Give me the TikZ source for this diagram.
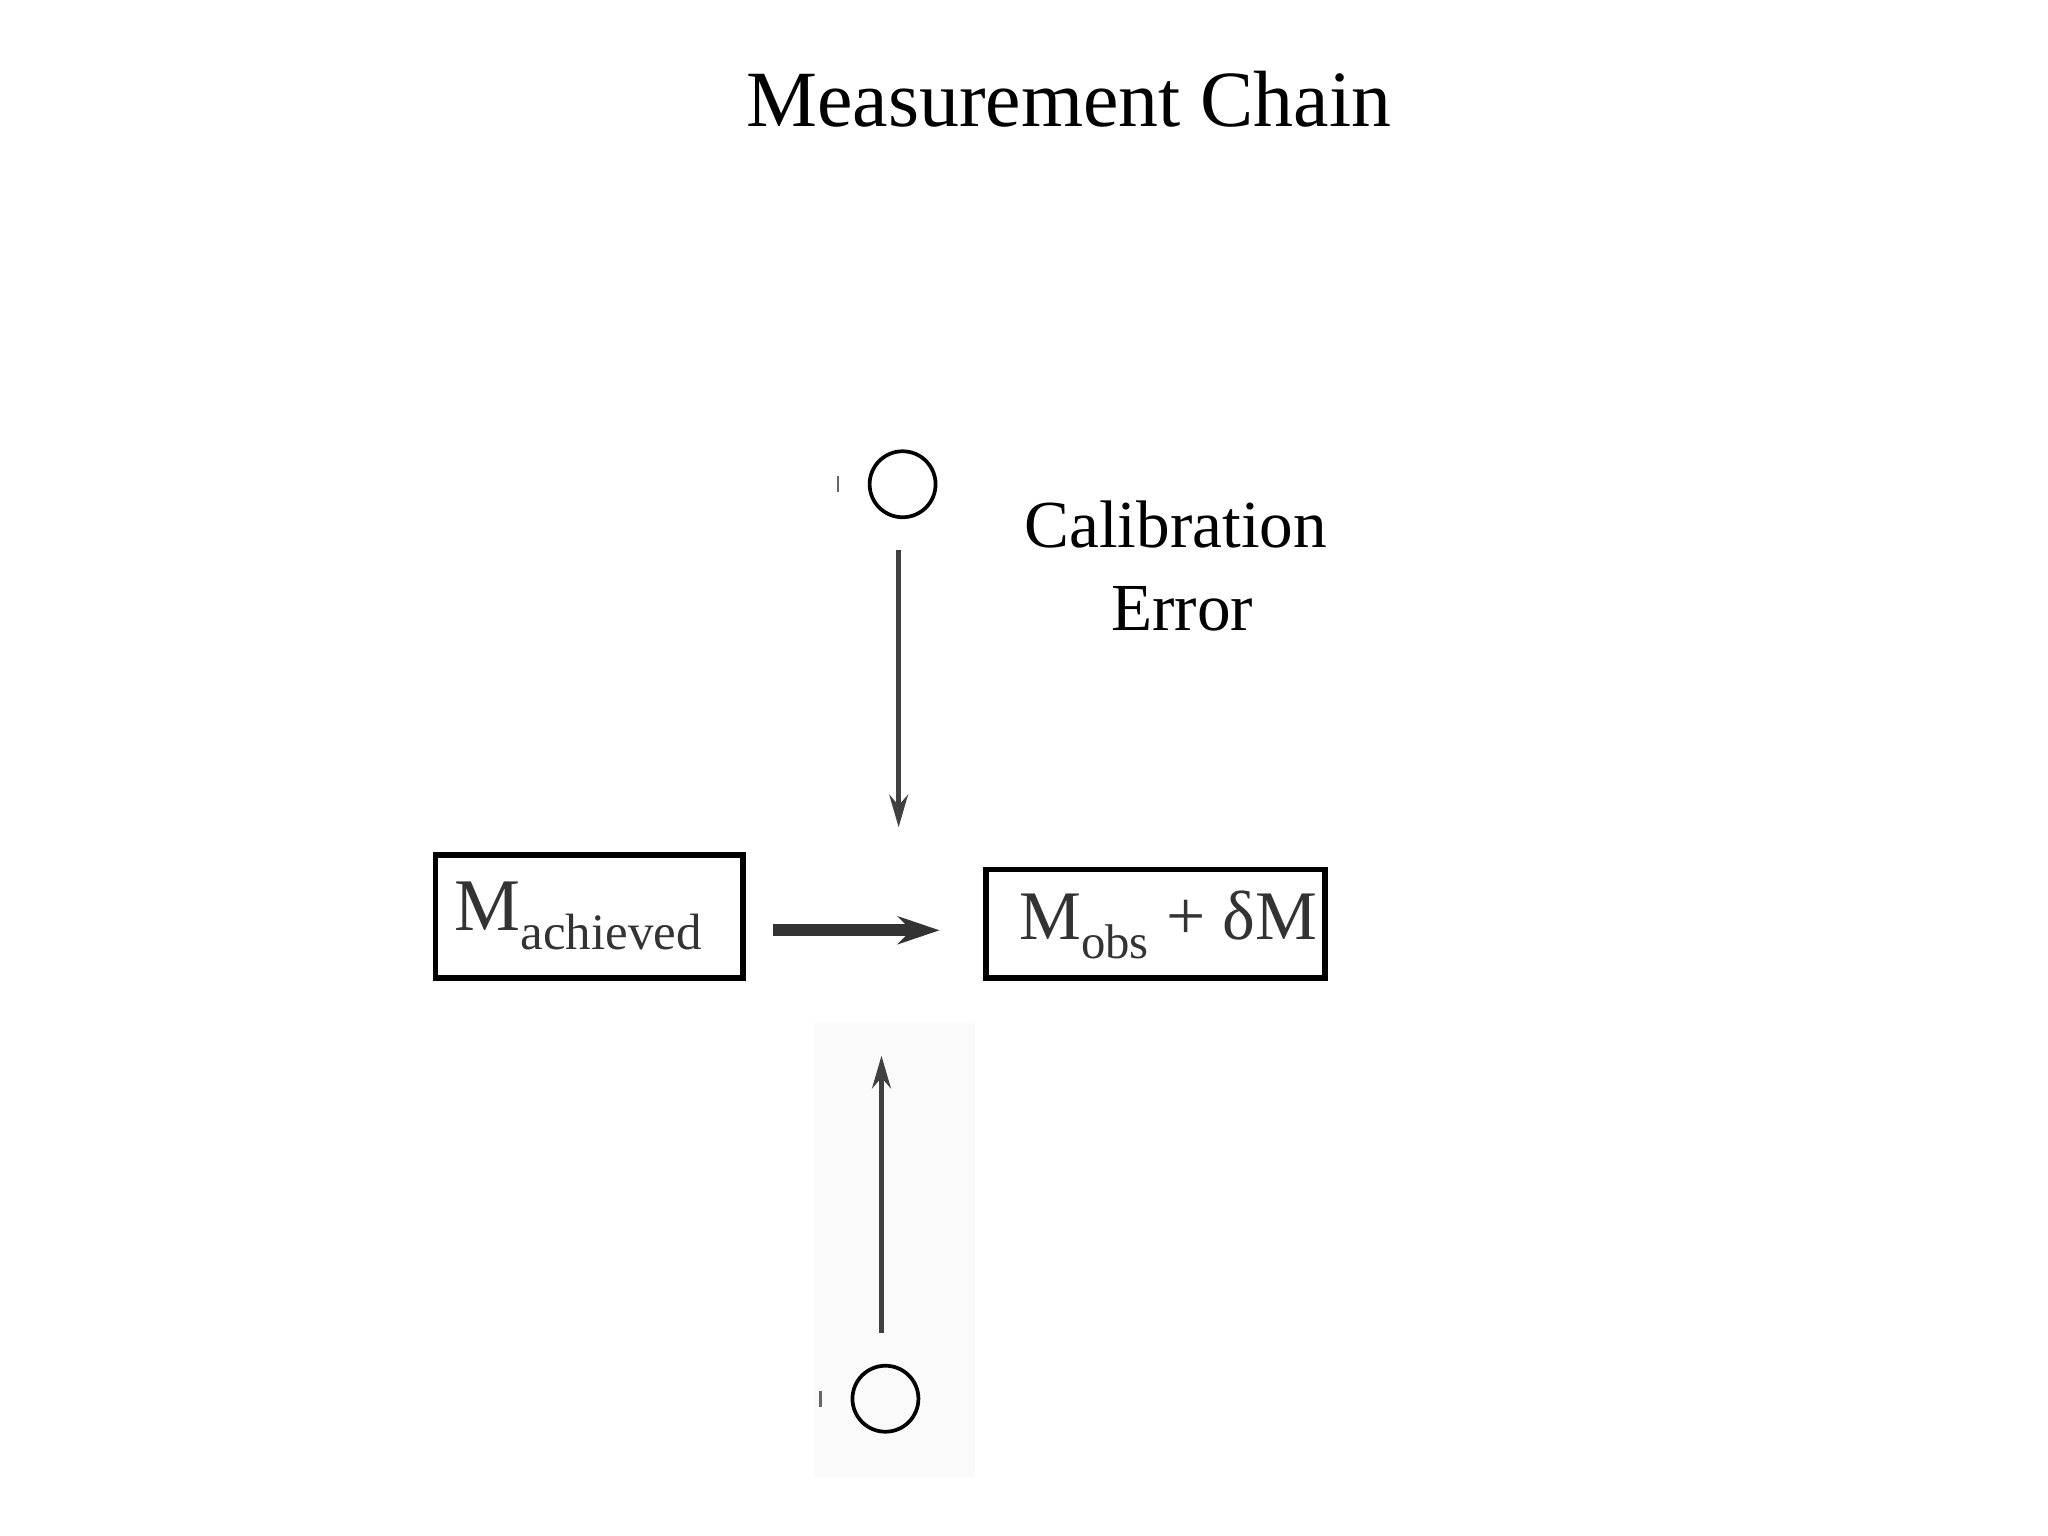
\documentclass[tikz,border=0pt]{standalone}
\usepackage{fontspec}
\usetikzlibrary{arrows.meta}
\setmainfont{Liberation Serif}
\begin{document}
\begin{tikzpicture}[x=1cm,y=1cm,
  box/.style={draw,line width=1.2pt,inner sep=0pt},
  arr/.style={-{Stealth[length=7pt,width=4pt]},line width=1.2pt,draw=black!75},
  circ/.style={draw,circle,line width=0.8pt,minimum size=0.5cm,inner sep=0pt}]
\useasboundingbox (0,0) rectangle (15.52,11.64);
\begin{scope}[shift={(-0.06,0.05)}]
\fill[black!2] (6.23,0.39) rectangle (7.45,3.84);
\node (title) at (8.16,10.84) {\fontsize{17.2}{21}\selectfont Measurement Chain};
\node[align=center,font=\fontsize{14.5}{18}\selectfont] (cal) at (8.97,7.3) {Calibration\\\hspace*{0.1cm}Error};
\node[circ] (c1) at (6.90,7.92) {};
\node[circ] (c2) at (6.77,0.99) {};
\draw[line width=0.6pt,black!60] (6.41,7.86) -- (6.41,7.98);
\draw[line width=0.6pt,black!60] (6.28,0.93) -- (6.28,1.05);
\node[box,minimum width=2.33cm,minimum height=0.93cm] (ma) at (4.525,4.645) {};
\node[anchor=west,text=black!80] at (3.38,4.65) {\fontsize{16}{19}\selectfont M\raisebox{-4pt}{\fontsize{11}{13}\selectfont achieved}};
\node[box,minimum width=2.57cm,minimum height=0.82cm] (mo) at (8.815,4.59) {};
\node[anchor=west,text=black!80] at (7.66,4.58) {\fontsize{15}{18}\selectfont M\raisebox{-4pt}{\fontsize{10.5}{12}\selectfont obs} + δM};
\coordinate (t1) at (6.87,7.42);
\coordinate (t2) at (6.87,5.32);
\draw[arr] (t1) -- (t2);
\coordinate (b1) at (6.74,1.49);
\coordinate (b2) at (6.74,3.59);
\draw[arr] (b1) -- (b2);
\coordinate (h1) at (5.92,4.54);
\coordinate (h2) at (7.18,4.54);
\draw[-{Stealth[length=9pt,width=6pt]},line width=2.5pt,draw=black!80] (h1) -- (h2);
\end{scope}
\end{tikzpicture}
\end{document}
